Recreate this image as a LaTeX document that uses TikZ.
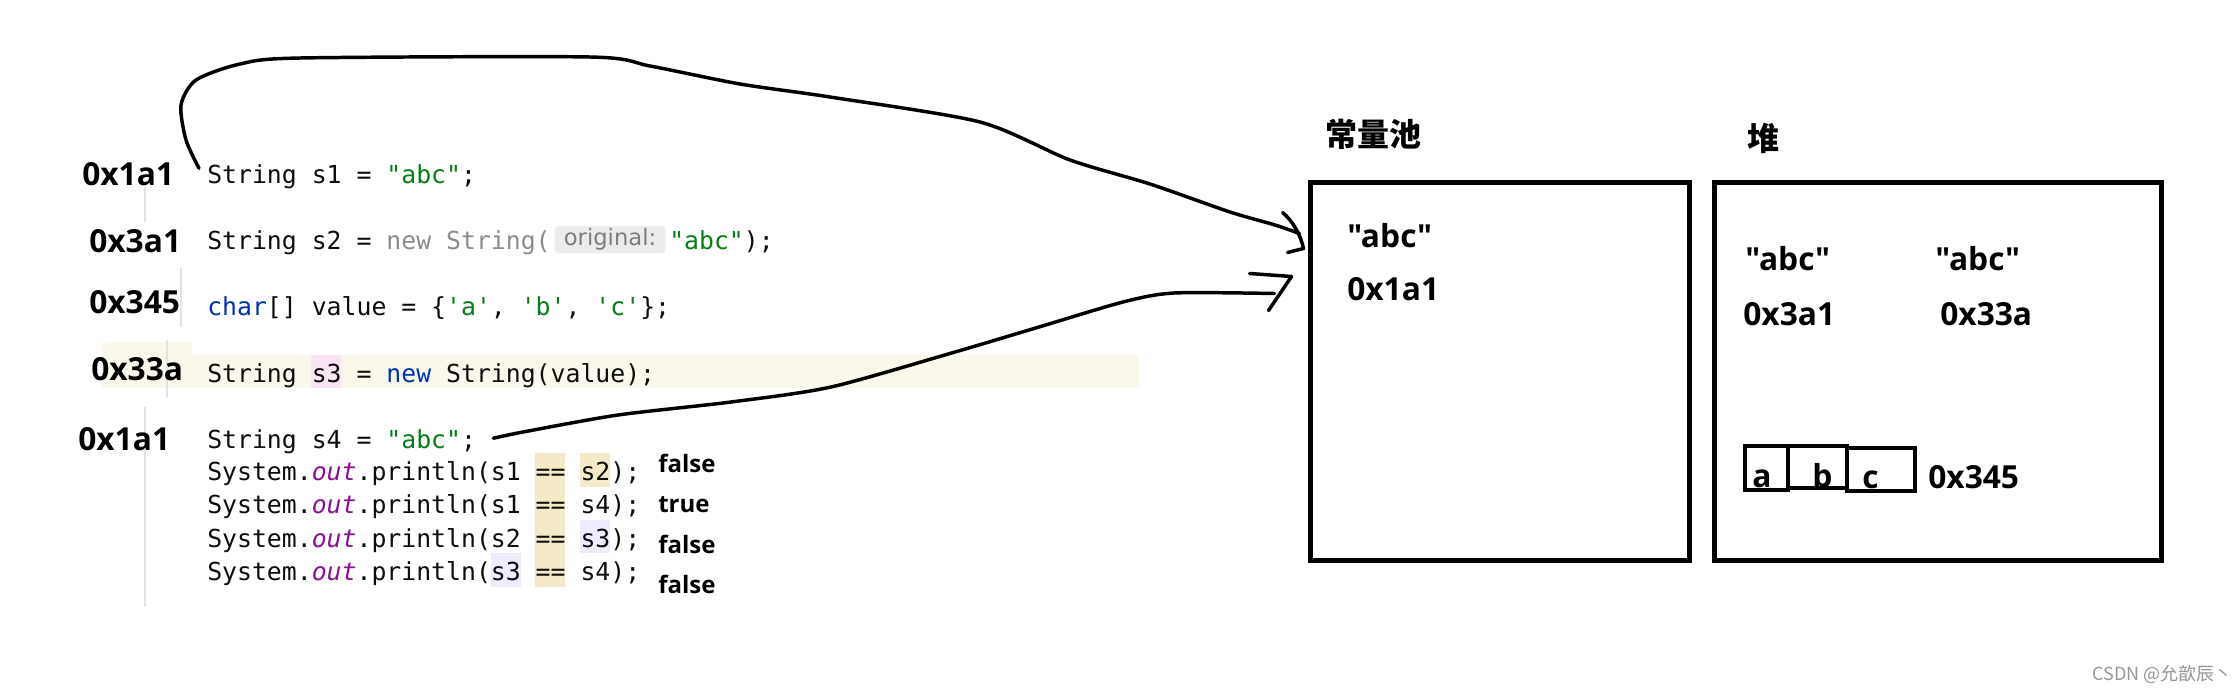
\documentclass[tikz,border=0pt]{standalone}
\usepackage{fontspec}
\setmainfont{Liberation Sans}
\setmonofont{DejaVu Sans Mono}
\newfontfamily\cjk{Noto Sans CJK SC}
\newfontfamily\memfont{Open Sans}
\newfontfamily\hintfont{DejaVu Sans}
\usepackage{tikz}
\usetikzlibrary{positioning,calc}
\definecolor{kwblue}{RGB}{0,51,179}
\definecolor{strgreen}{RGB}{6,125,23}
\definecolor{fieldpurple}{RGB}{135,16,148}
\definecolor{dimgray}{RGB}{140,140,140}
\definecolor{hintbg}{RGB}{236,236,236}
\definecolor{hintgray}{RGB}{125,125,125}
\definecolor{caretrow}{RGB}{250,248,234}
\definecolor{eqhl}{RGB}{245,234,200}
\definecolor{pinkhl}{RGB}{249,228,243}
\definecolor{lavhl}{RGB}{237,235,252}
\definecolor{guttergray}{RGB}{226,226,226}
\definecolor{wmgray}{RGB}{150,150,150}
\newcommand{\kw}[1]{\textcolor{kwblue}{#1}}
\newcommand{\jstr}[1]{\textcolor{strgreen}{#1}}
\newcommand{\fld}[1]{\textcolor{fieldpurple}{\itshape #1}}
\newcommand{\dimmed}[1]{\textcolor{dimgray}{#1}}

\begin{document}
\begin{tikzpicture}[x=0.75pt,y=-0.75pt,
    code/.style={font=\ttfamily\fontsize{18.6}{22}\selectfont,anchor=base west,inner sep=0,text=black!95},
    addr/.style={font=\memfont\bfseries\fontsize{23.8}{28}\selectfont,anchor=base west,inner sep=0},
    result/.style={font=\memfont\bfseries\fontsize{18}{22}\selectfont,anchor=base west,inner sep=0},
    title/.style={font=\cjk\bfseries\fontsize{24}{28}\selectfont,anchor=base west,inner sep=0},
    area/.style={draw,line width=3.75pt,minimum height=378*0.75pt,anchor=north west,inner sep=0,outer sep=0},
    cell/.style={draw,line width=3pt,anchor=north west,inner sep=0,outer sep=0},
    hint/.style={fill=hintbg,rounded corners=3pt,text=hintgray,font=\hintfont\fontsize{17}{20}\selectfont,minimum width=111*0.75pt,minimum height=27*0.75pt,inner sep=0},
    hand/.style={line width=2.6pt,line cap=round,line join=round},
    gutter/.style={guttergray,line width=1.2pt}
  ]
    \useasboundingbox[fill=white] (0,0) rectangle (2236,693);

    \fill[caretrow] (102,342) rectangle (192,388);
    \fill[caretrow] (192,355) rectangle (1139,388);
    \fill[pinkhl] (311,355) rectangle (341,388);
    \fill[eqhl] (535,453) rectangle (565,587);
    \fill[eqhl] (580,453) rectangle (610,487);
    \fill[lavhl] (580,520) rectangle (610,553);
    \fill[lavhl] (491,553) rectangle (521,587);
    \draw[gutter] (145,187) -- (145,222);
    \draw[gutter] (181,268) -- (181,327);
    \draw[gutter] (167,340) -- (167,397);
    \draw[gutter] (145,407) -- (145,607);

    \node[addr] (a1) at (82,185) {0x1a1};
    \node[addr] (a2) at (89,252) {0x3a1};
    \node[addr] (a3) at (89,313) {0x345};
    \node[addr] (a4) at (91,380) {0x33a};
    \node[addr] (a5) at (78,450) {0x1a1};

    \node[code] (s1) at (207,183) {String s1 = \jstr{"abc"};};
    \node[code] (s2a) at (207,249) {String s2 = \dimmed{new String(}};
    \node[hint] (s2hint) at (610,239.5) {original:};
    \node[code] (s2b) at (669,249) {\jstr{"abc"});};
    \node[code] (arr) at (207,315) {\kw{char}[] value = \{\jstr{'a'}, \jstr{'b'}, \jstr{'c'}\};};
    \node[code] (s3) at (207,382) {String s3 = \kw{new} String(value);};
    \node[code] (s4) at (207,448) {String s4 = \jstr{"abc"};};
    \node[code] (p1) at (207,480) {System.\fld{out}.println(s1 == s2);};
    \node[code] (p2) at (207,513) {System.\fld{out}.println(s1 == s4);};
    \node[code] (p3) at (207,547) {System.\fld{out}.println(s2 == s3);};
    \node[code] (p4) at (207,580) {System.\fld{out}.println(s3 == s4);};

    \node[result] (r1) at (658,472) {false};
    \node[result] (r2) at (658,512) {true};
    \node[result] (r3) at (658,553) {false};
    \node[result] (r4) at (658,593) {false};

    \node[title] (pooltitle) at (1325,146) {常量池};
    \node[title] (heaptitle) at (1747,150) {堆};
    \node[area,minimum width=379*0.75pt] (pool) at (1310.5,182.5) {};
    \node[area,minimum width=447*0.75pt] (heap) at (1714,182.5) {};

    \node[addr] (poolstr) at (1347,247) {"abc"};
    \node[addr] (pooladdr) at (1347,300) {0x1a1};
    \node[addr] (heapstr1) at (1745,270) {"abc"};
    \node[addr] (heapstr2) at (1935,270) {"abc"};
    \node[addr] (heapaddr1) at (1743,325) {0x3a1};
    \node[addr] (heapaddr2) at (1940,325) {0x33a};

    \node[cell,minimum width=43*0.75pt,minimum height=44*0.75pt] (cella) at (1744.5,445.5) {};
    \node[cell,minimum width=59.5*0.75pt,minimum height=42*0.75pt] (cellb) at (1787.5,445.5) {};
    \node[cell,minimum width=68*0.75pt,minimum height=43*0.75pt] (cellc) at (1847,447.5) {};
    \node[addr] (cha) at (1752,487) {a};
    \node[addr] (chb) at (1812,487) {b};
    \node[addr] (chc) at (1862,488) {c};
    \node[addr] (arraddr) at (1928,488) {0x345};

    \coordinate (s1start) at ($(s1.west)+(-8,-8)$);
    \coordinate (s4end) at ($(s4.east)+(17,-3)$);
    \coordinate (poolinA) at ($(pool.north west)+(-11,51)$);
    \coordinate (poolinB) at ($(pool.north west)+(-36,111)$);

    \draw[hand] plot[smooth,tension=0.45] coordinates {(s1start) (186,140) (181,105) (196,80) (240,64) (300,58) (590,57) (650,66) (740,84) (830,97) (980,122) (1070,160) (1150,184) (1230,212) (1275,225) (poolinA)};
    \draw[hand] (poolinA) ++(-17,-21) .. controls +(10,8) and +(-3,-14) .. ++(21,36) -- ++(-16,4);
    \draw[hand] plot[smooth,tension=0.45] coordinates {(s4end) (523,432) (618,415) (731,402) (831,387) (955,352) (1039,327) (1123,302) (1174,293) (poolinB)};
    \draw[hand] (poolinB) ++(-25,-20) -- ++(42,3) -- ++(-23,34);

    \node[font=\cjk\fontsize{13.5}{16}\selectfont,text=wmgray,anchor=base west,inner sep=0] (wm) at (2092,680) {CSDN @允歆辰丶};
  \end{tikzpicture}
\end{document}
